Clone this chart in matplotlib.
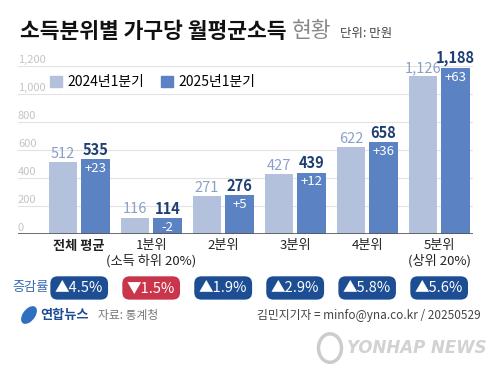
import numpy as np
import matplotlib
matplotlib.use("Agg")
import matplotlib.pyplot as plt
from matplotlib.patches import Patch, Ellipse

plt.rcParams['font.family'] = ['Noto Sans CJK KR', 'DejaVu Sans']

categories = ['전체 평균', '1분위\n(소득 하위 20%)', '2분위', '3분위', '4분위', '5분위\n(상위 20%)']
q2024 = [512, 116, 271, 427, 622, 1126]
q2025 = [535, 114, 276, 439, 658, 1188]
changes = [23, -2, 5, 12, 36, 63]
rates = [4.5, -1.5, 1.9, 2.9, 5.8, 5.6]
yticks = [0, 200, 400, 600, 800, 1000, 1200]
series_names = ['2024년1분기', '2025년1분기']

light = '#b3c1dd'
dark = '#5b82c3'
navy = '#1d4e94'
red = '#c9364b'

fig = plt.figure(figsize=(5, 3.8), dpi=100)
ax = fig.add_axes([0.036, 0.384, 0.91, 0.442])

x = np.arange(len(categories))
w = 0.40
off = 0.225
ax.bar(x - off, q2024, w, color=light, zorder=2)
ax.bar(x + off, q2025, w, color=dark, zorder=2)

ax.set_xlim(-0.85, 5.47)
ax.set_ylim(0, 1200)
for s in ax.spines.values():
    s.set_visible(False)
ax.set_xticks([])
ax.set_yticks([])
for t in yticks[1:]:
    ax.axhline(t, color='#e2e2e2', lw=0.8, zorder=1)
ax.axhline(0, color='#555555', lw=1.2, zorder=3)

trans = ax.get_yaxis_transform()
for t in yticks:
    ax.text(0, t + 8, f'{t:,}', transform=trans, ha='left', va='bottom',
            fontsize=8, color='#c4c4c4')

for i in range(len(categories)):
    ax.annotate(f'{q2024[i]:,}', (x[i] - off, q2024[i]), xytext=(0, 1),
                textcoords='offset points', ha='center', va='bottom',
                fontsize=10.5, color='#8ca0c7', zorder=4)
    ax.annotate(f'{q2025[i]:,}', (x[i] + off, q2025[i]), xytext=(0, 1),
                textcoords='offset points', ha='center', va='bottom',
                fontsize=10.5, color='#1e3f73', fontweight='bold', zorder=4)
    ax.annotate(f'{changes[i]:+d}', (x[i] + off, q2025[i]), xytext=(0, -2),
                textcoords='offset points', ha='center', va='top',
                fontsize=9.5, color='white', zorder=4)
    ax.text(x[i], -35, categories[i], ha='center', va='top', fontsize=9.5,
            color='#222222', linespacing=1.2,
            fontweight='bold' if i == 0 else 'normal')
    up = rates[i] >= 0
    sym = '▲' if up else '▼'
    ax.text(x[i], -385, f'{sym}{abs(rates[i])}%', ha='center', va='center',
            fontsize=10.5, color='white',
            bbox=dict(boxstyle='round,pad=0.32,rounding_size=0.5',
                      fc=navy if up else red, ec='none'))

fig.text(0.024, 0.243, '증감률', ha='left', va='center', fontsize=9.5, color='#3a6db5')

handles = [Patch(color=light), Patch(color=dark)]
fig.legend(handles, series_names, loc='center left', bbox_to_anchor=(0.1, 0.784),
           ncol=2, frameon=False, fontsize=10, handlelength=0.85, handleheight=0.85,
           handletextpad=0.4, columnspacing=1.2, borderpad=0, borderaxespad=0)

# title: place the trailing parts after the measured bold part
r = fig.canvas.get_renderer()
t1 = fig.text(0.04, 0.918, '소득분위별 가구당 월평균소득', ha='left', va='center',
              fontsize=15.5, fontweight='bold', color='#111111')
bb = t1.get_window_extent(r).transformed(fig.transFigure.inverted())
t2 = fig.text(bb.x1 + 0.01, 0.918, '현황', ha='left', va='center', fontsize=15.5,
              color='#888888')
bb2 = t2.get_window_extent(r).transformed(fig.transFigure.inverted())
fig.text(bb2.x1 + 0.018, 0.913, '단위: 만원', ha='left', va='center', fontsize=9,
         color='#444444')

# footer
fig.patches.append(Ellipse((0.058, 0.171), 0.026, 0.05, angle=-25, transform=fig.transFigure,
                           fc='#2f6fc0', ec='none'))
fig.text(0.08, 0.171, '연합뉴스', ha='left', va='center', fontsize=9.5,
         fontweight='bold', color='#1d4e94')
fig.text(0.195, 0.171, '자료: 통계청', ha='left', va='center', fontsize=8.5, color='#777777')
fig.text(0.962, 0.171, '김민지기자 = minfo@yna.co.kr / 20250529', ha='right', va='center',
         fontsize=8.5, color='#444444')
fig.patches.append(Ellipse((0.66, 0.084), 0.046, 0.075, transform=fig.transFigure,
                           fc='none', ec='#cccccc', lw=2.5))
fig.text(0.974, 0.084, 'YONHAP NEWS', ha='right', va='center', fontsize=12,
         fontweight='bold', fontstyle='italic', color='#d2d2d2', family='DejaVu Sans')

fig.savefig('out.png', dpi=100)
